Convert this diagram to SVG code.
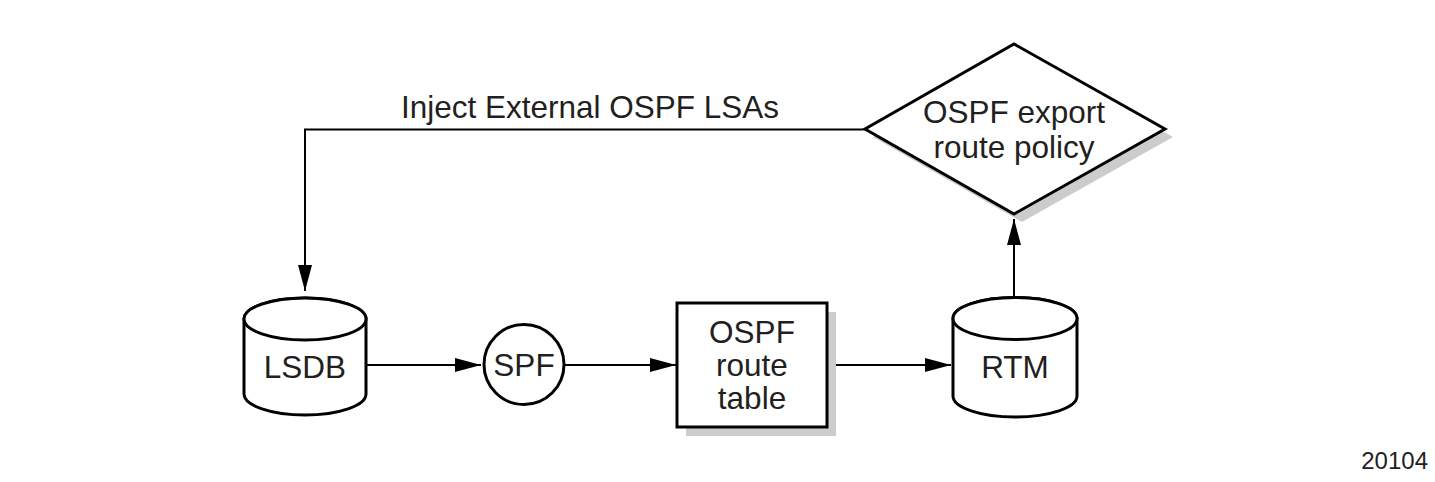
<svg xmlns="http://www.w3.org/2000/svg" width="1435" height="482" viewBox="0 0 1435 482">
  <style>
    .node { fill: #ffffff; stroke: #000000; stroke-width: 3; }
    .shadow { fill: #cccccc; stroke: none; }
    .conn { fill: none; stroke: #000000; stroke-width: 2; }
    text { font-family: "Liberation Sans", Arial, sans-serif; font-size: 31.5px; fill: #231f20; text-anchor: middle; }
    .small { font-size: 24px; text-anchor: end; }
  </style>
  <defs>
    <marker id="arrow" markerWidth="26" markerHeight="14" refX="26" refY="7" orient="auto" markerUnits="userSpaceOnUse">
      <path d="M0,0 L26,7 L0,14 Z" fill="#000000"/>
    </marker>
  </defs>

  <g id="connectors">
    <path class="conn" d="M865,129.5 H305 V291" marker-end="url(#arrow)"/>
    <path class="conn" d="M366,365 H481" marker-end="url(#arrow)"/>
    <path class="conn" d="M564,365 H676" marker-end="url(#arrow)"/>
    <path class="conn" d="M828,365 H951" marker-end="url(#arrow)"/>
    <path class="conn" d="M1014,297 V219" marker-end="url(#arrow)"/>
  </g>
  <text x="590" y="118">Inject External OSPF LSAs</text>

  <g id="lsdb">
    <path class="node" d="M244,319 V394 A61,21 0 0 0 366,394 V319 A61,21 0 0 0 244,319 Z"/>
    <ellipse class="node" cx="305" cy="319" rx="61" ry="21"/>
    <text x="305" y="378">LSDB</text>
  </g>

  <g id="spf">
    <circle class="node" cx="524" cy="364.5" r="40"/>
    <text x="524" y="376">SPF</text>
  </g>

  <g id="ospf-route-table">
    <rect class="shadow" x="686" y="312" width="150" height="124"/>
    <rect class="node" x="677" y="303" width="150" height="124"/>
    <text x="752" y="343">OSPF</text>
    <text x="752" y="376">route</text>
    <text x="752" y="409">table</text>
  </g>

  <g id="rtm">
    <path class="node" d="M953,318.5 V396 A62,21 0 0 0 1077,396 V318.5 A62,21 0 0 0 953,318.5 Z"/>
    <ellipse class="node" cx="1015" cy="318.5" rx="62" ry="21"/>
    <text x="1015" y="378">RTM</text>
  </g>

  <g id="export-policy">
    <polygon class="shadow" points="1022,52 1173,137 1022,222 873,137"/>
    <polygon class="node" points="1014,44 1165,129 1014,214 865,129"/>
    <text x="1014" y="123">OSPF export</text>
    <text x="1014" y="158">route policy</text>
  </g>

  <text class="small" x="1428" y="469">20104</text>
</svg>
